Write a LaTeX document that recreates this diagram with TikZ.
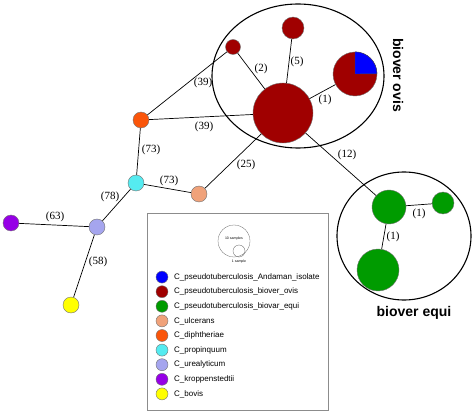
\documentclass[tikz,border=0pt]{standalone}
\usepackage{fontspec}
\setmainfont{Liberation Serif}
\setsansfont{Liberation Sans}
\usepackage{tikz}
\usetikzlibrary{positioning}

\definecolor{ovisred}{RGB}{160,0,0}
\definecolor{equigreen}{RGB}{0,155,0}
\definecolor{ulcsalmon}{RGB}{240,162,122}
\definecolor{diphorange}{RGB}{250,85,10}
\definecolor{propcyan}{RGB}{85,235,240}
\definecolor{urealav}{RGB}{165,165,238}
\definecolor{kroppurple}{RGB}{150,0,230}
\definecolor{bovyellow}{RGB}{255,255,0}

\begin{document}
\begin{tikzpicture}[
  x=1pt, y=-1pt,
  nd/.style={circle, draw=black!55, line width=0.4pt, inner sep=0pt, minimum size=#1},
  ln/.style={line width=0.7pt},
  grp/.style={line width=1.1pt},
  lbl/.style={font=\fontsize{11}{12}\selectfont, inner sep=0pt},
  grplbl/.style={font=\sffamily\bfseries\fontsize{14}{16}\selectfont, inner sep=0pt},
  key/.style={font=\sffamily\fontsize{8}{9}\selectfont, anchor=west, inner sep=0pt}
]
  \useasboundingbox (0,0) rectangle (474,414);

  % groups
  \draw[grp] (298,76) ellipse [x radius=86, y radius=72];
  \draw[grp] (404,236) ellipse [x radius=67, y radius=64];
  \node[grplbl, rotate=-90] (ovislbl) at (398,75) {biover ovis};
  \node[grplbl] (equilbl) at (414,313) {biover equi};

  % nodes
  \node[nd=60pt, fill=ovisred] (ovis) at (283,113) {};
  \node[nd=15pt, fill=ovisred] (ovisA) at (233,47) {};
  \node[nd=22pt, fill=ovisred] (ovisB) at (293,28) {};
  \node[nd=44pt, fill=ovisred] (pie) at (355,74) {};
  \fill[blue, draw=black!70, line width=0.4pt] (pie.center) -- (pie.north) arc[start angle=90, end angle=0, radius=22pt] -- cycle;
  \node[nd=34pt, fill=equigreen] (equi) at (389,207) {};
  \node[nd=22pt, fill=equigreen] (equiA) at (443,203) {};
  \node[nd=42pt, fill=equigreen] (equiB) at (378,270) {};
  \node[nd=16pt, fill=diphorange] (diph) at (141,120) {};
  \node[nd=16pt, fill=propcyan] (prop) at (136,183) {};
  \node[nd=16pt, fill=ulcsalmon] (ulc) at (199,194) {};
  \node[nd=16pt, fill=urealav] (urea) at (97,227) {};
  \node[nd=16pt, fill=kroppurple] (krop) at (11,223) {};
  \node[nd=16pt, fill=bovyellow] (bov) at (71,305) {};

  % links
  \draw[ln] (ovisA) -- (ovis);
  \draw[ln] (ovisB) -- (ovis);
  \draw[ln] (pie) -- (ovis);
  \draw[ln] (ovis) -- (equi);
  \draw[ln] (ovis) -- (ulc);
  \draw[ln] (diph) -- (ovis);
  \draw[ln] (diph) -- (ovisA);
  \draw[ln] (diph) -- (prop);
  \draw[ln] (prop) -- (ulc);
  \draw[ln] (prop) -- (urea);
  \draw[ln] (urea) -- (krop);
  \draw[ln] (urea) -- (bov);
  \draw[ln] (equi) -- (equiA);
  \draw[ln] (equi) -- (equiB);

  \node[lbl] (d2) at (261,69) {(2)};
  \node[lbl] (d5) at (297,62) {(5)};
  \node[lbl] (d1) at (325,100) {(1)};
  \node[lbl] (d12) at (347,155) {(12)};
  \node[lbl] (d25) at (246,165) {(25)};
  \node[lbl] (d39a) at (203,83) {(39)};
  \node[lbl] (d39b) at (204,127) {(39)};
  \node[lbl] (d73a) at (151,150) {(73)};
  \node[lbl] (d73b) at (169,181) {(73)};
  \node[lbl] (d78) at (110,197) {(78)};
  \node[lbl] (d63) at (55,217) {(63)};
  \node[lbl] (d58) at (98,262) {(58)};
  \node[lbl] (d1a) at (419,214) {(1)};
  \node[lbl] (d1b) at (393,237) {(1)};

  % legend
  \draw[black!45, line width=0.6pt] (147,213) rectangle (328,410);
  \node[circle, draw=black!60, line width=0.3pt, minimum size=32pt, inner sep=0pt] (ten) at (234,241) {};
  \node[circle, draw=black!60, line width=0.3pt, minimum size=12pt, inner sep=0pt] (one) at (239,251) {};
  \node[font=\sffamily\fontsize{3.5}{4}\selectfont, inner sep=0pt] (tenlbl) at (234,239) {10 samples};
  \node[font=\sffamily\fontsize{3.5}{4}\selectfont, inner sep=0pt] (onelbl) at (239,262) {1 sample};
  \foreach \c/\t [count=\i] in {
      blue/C\_pseudotuberculosis\_Andaman\_isolate,
      ovisred/C\_pseudotuberculosis\_biover\_ovis,
      equigreen/C\_pseudotuberculosis\_biovar\_equi,
      ulcsalmon/C\_ulcerans,
      diphorange/C\_diphtheriae,
      propcyan/C\_propinquum,
      urealav/C\_urealyticum,
      kroppurple/C\_kroppenstedtii,
      bovyellow/C\_bovis} {
    \node[nd=12pt, fill=\c] (k\i) at (162,{262.5+14.6*\i}) {};
    \node[key] (t\i) at (174,{262.5+14.6*\i}) {\t};
  }
\end{tikzpicture}
\end{document}
